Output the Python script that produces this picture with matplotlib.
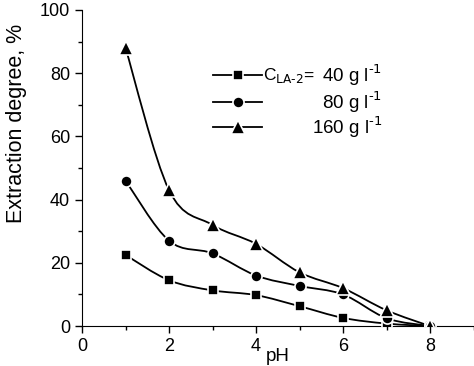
import numpy as np
import matplotlib
matplotlib.use("Agg")
import matplotlib.pyplot as plt
from matplotlib.path import Path
from matplotlib.patches import PathPatch
from matplotlib.ticker import MultipleLocator

plt.rcParams['font.family'] = ['Liberation Sans', 'DejaVu Sans']

ph = [1, 2, 3, 4, 5, 6, 7, 8]
c40 = [22.5, 14.5, 11.3, 9.8, 6.3, 2.6, 0.8, 0.0]
c80 = [46.0, 27.0, 23.0, 16.0, 12.7, 10.0, 2.5, 0.0]
c160 = [88.0, 43.0, 32.0, 26.0, 17.0, 12.0, 5.0, 0.0]

labels = ["40 g l$^{\\text{-}1}$", "80 g l$^{\\text{-}1}$", "160 g l$^{\\text{-}1}$"]
markers = ["s", "o", "^"]
msizes = [7, 8, 9.5]


def smooth_path(x, y):
    # catmull-rom -> cubic bezier through the data points
    pts = np.column_stack([x, y]).astype(float)
    ext = np.vstack([pts[0], pts, pts[-1]])
    verts = [tuple(pts[0])]
    codes = [Path.MOVETO]
    for i in range(1, len(ext) - 2):
        p0, p1, p2, p3 = ext[i - 1], ext[i], ext[i + 1], ext[i + 2]
        c1 = p1 + (p2 - p0) / 6.0
        c2 = p2 - (p3 - p1) / 6.0
        verts += [tuple(c1), tuple(c2), tuple(p2)]
        codes += [Path.CURVE4] * 3
    return Path(verts, codes)


fig = plt.figure(figsize=(4.74, 3.66), dpi=100)
ax = fig.add_axes([0.173, 0.109, 0.826, 0.864])

for ys, m, s in zip([c40, c80, c160], markers, msizes):
    ax.add_patch(PathPatch(smooth_path(ph, ys), fill=False, ec='black', lw=1.3, zorder=2))
    ax.plot(ph, ys, ls='none', marker=m, ms=s, mfc='black', mec='white', mew=1.2, zorder=3)

# legend drawn by hand
rows = [0.794, 0.709, 0.630]
for yy, lab, m, s in zip(rows, labels, markers, msizes):
    ax.plot([0.335, 0.46], [yy, yy], color='black', lw=1.3, transform=ax.transAxes, zorder=2)
    ax.plot([0.3975], [yy], marker=m, ms=s, mfc='black', mec='white', mew=1.2,
            transform=ax.transAxes, zorder=3)
    ax.text(0.767, yy, lab, transform=ax.transAxes, ha='right', va='center', fontsize=13.5)
ax.text(0.462, rows[0], "C$_{\\mathrm{LA\\text{-}2}}$=", transform=ax.transAxes,
        ha='left', va='center', fontsize=12.5)

ax.set_xlim(0, 9)
ax.set_ylim(0, 100)
ax.xaxis.set_major_locator(MultipleLocator(2))
ax.xaxis.set_minor_locator(MultipleLocator(1))
ax.yaxis.set_major_locator(MultipleLocator(20))
ax.yaxis.set_minor_locator(MultipleLocator(10))
ax.tick_params(which='major', direction='out', length=5, width=1, labelsize=13)
ax.tick_params(which='minor', direction='out', length=3, width=1)
ax.spines['top'].set_visible(False)
ax.spines['right'].set_visible(False)
ax.set_xlabel("pH", fontsize=13.5, labelpad=-5)
ax.set_ylabel("Extraction degree, %", fontsize=15.5, va='center', ha='center')
ax.yaxis.set_label_coords(-0.168, 0.64)

fig.savefig("out.png", dpi=100)
